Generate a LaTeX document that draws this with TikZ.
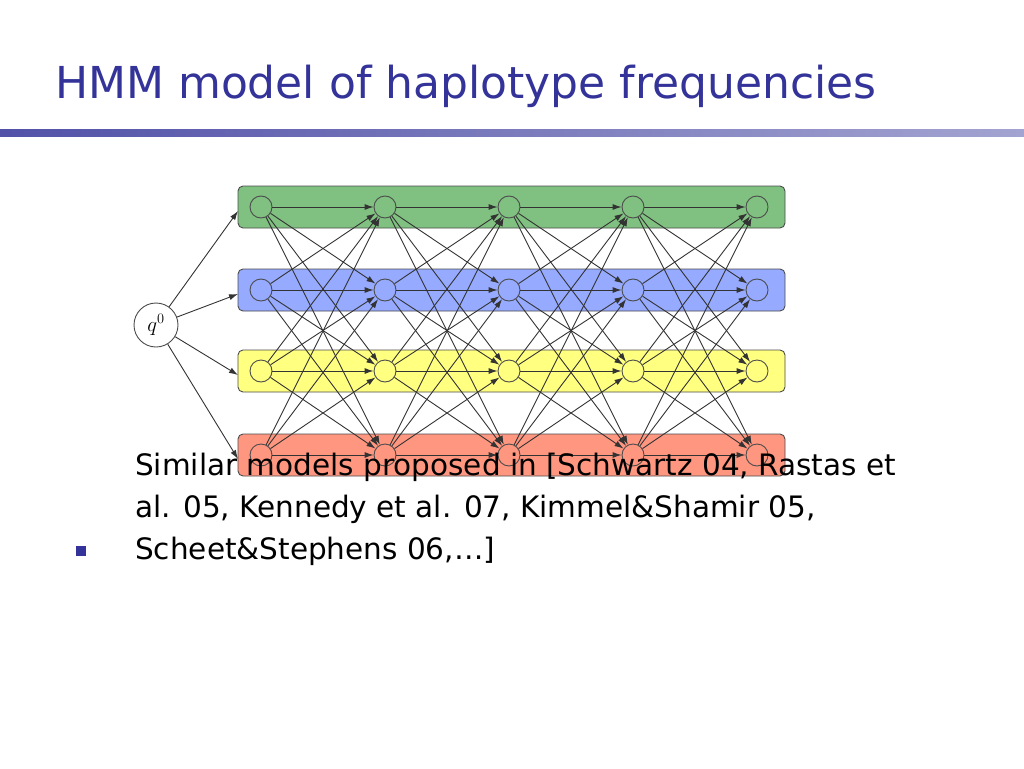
\documentclass[tikz,border=0pt]{standalone}
\usepackage{fontspec}
\setmainfont{DejaVu Sans}
\usetikzlibrary{arrows.meta}
\definecolor{titleblue}{RGB}{51,51,153}
\definecolor{rowgreen}{RGB}{128,192,128}
\definecolor{rowblue}{RGB}{150,170,255}
\definecolor{rowyellow}{RGB}{255,255,128}
\definecolor{rowred}{RGB}{255,150,128}

\tikzset{
  state/.style={circle,draw=black!70,line width=0.9pt,minimum size=22pt,inner sep=0pt},
  rowbox/.style={draw=black!70,line width=0.9pt,rounded corners=5pt},
  trans/.style={black!80,line width=0.9pt,-{Latex[length=9pt,width=6pt]}}
}

\begin{document}
\begin{tikzpicture}[x=1pt,y=-1pt]
        \useasboundingbox (0,0) rectangle (1024,768);

        % title
        \node[anchor=west,inner sep=0pt,text=titleblue,font=\fontsize{44}{50}\selectfont] (title) at (55,86) {HMM model of haplotype frequencies};
        \shade[left color=titleblue!85,right color=titleblue!45] (0,129) rectangle (1024,136);

        % rows
        \foreach \c/\y [count=\r] in {rowgreen/207,rowblue/290,rowyellow/371,rowred/455} {
          \draw[rowbox,fill=\c] (238,\y-21) rectangle (785,\y+21);
          \coordinate (in\r) at (238,\y+4);
          \foreach \x [count=\k] in {261,385,509,633,757}
            \node[state,fill=\c] (s\r\k) at (\x,\y) {};
        }

        % start state
        \node[state,minimum size=44pt,fill=white,font=\fontsize{22}{24}\selectfont] (q0) at (156,325) {$q^0$};
        \foreach \r in {1,...,4}
          \draw[trans] (q0) -- (in\r);

        % transitions
        \foreach \k [evaluate=\k as \n using int(\k+1)] in {1,...,4}
          \foreach \r in {1,...,4}
            \foreach \t in {1,...,4}
              \draw[trans] (s\r\k) -- (s\t\n);

        % bullet text
        \fill[titleblue] (76,546) rectangle (86,556) coordinate (bullet);
        \node[anchor=base west,inner sep=0pt,align=left,font=\fontsize{29.5}{42}\selectfont] (refs) at (135,559)
          {Similar models proposed in [Schwartz 04, Rastas et\\al. 05, Kennedy et al. 07, Kimmel\&Shamir 05,\\Scheet\&Stephens 06,…]};
\end{tikzpicture}
\end{document}
